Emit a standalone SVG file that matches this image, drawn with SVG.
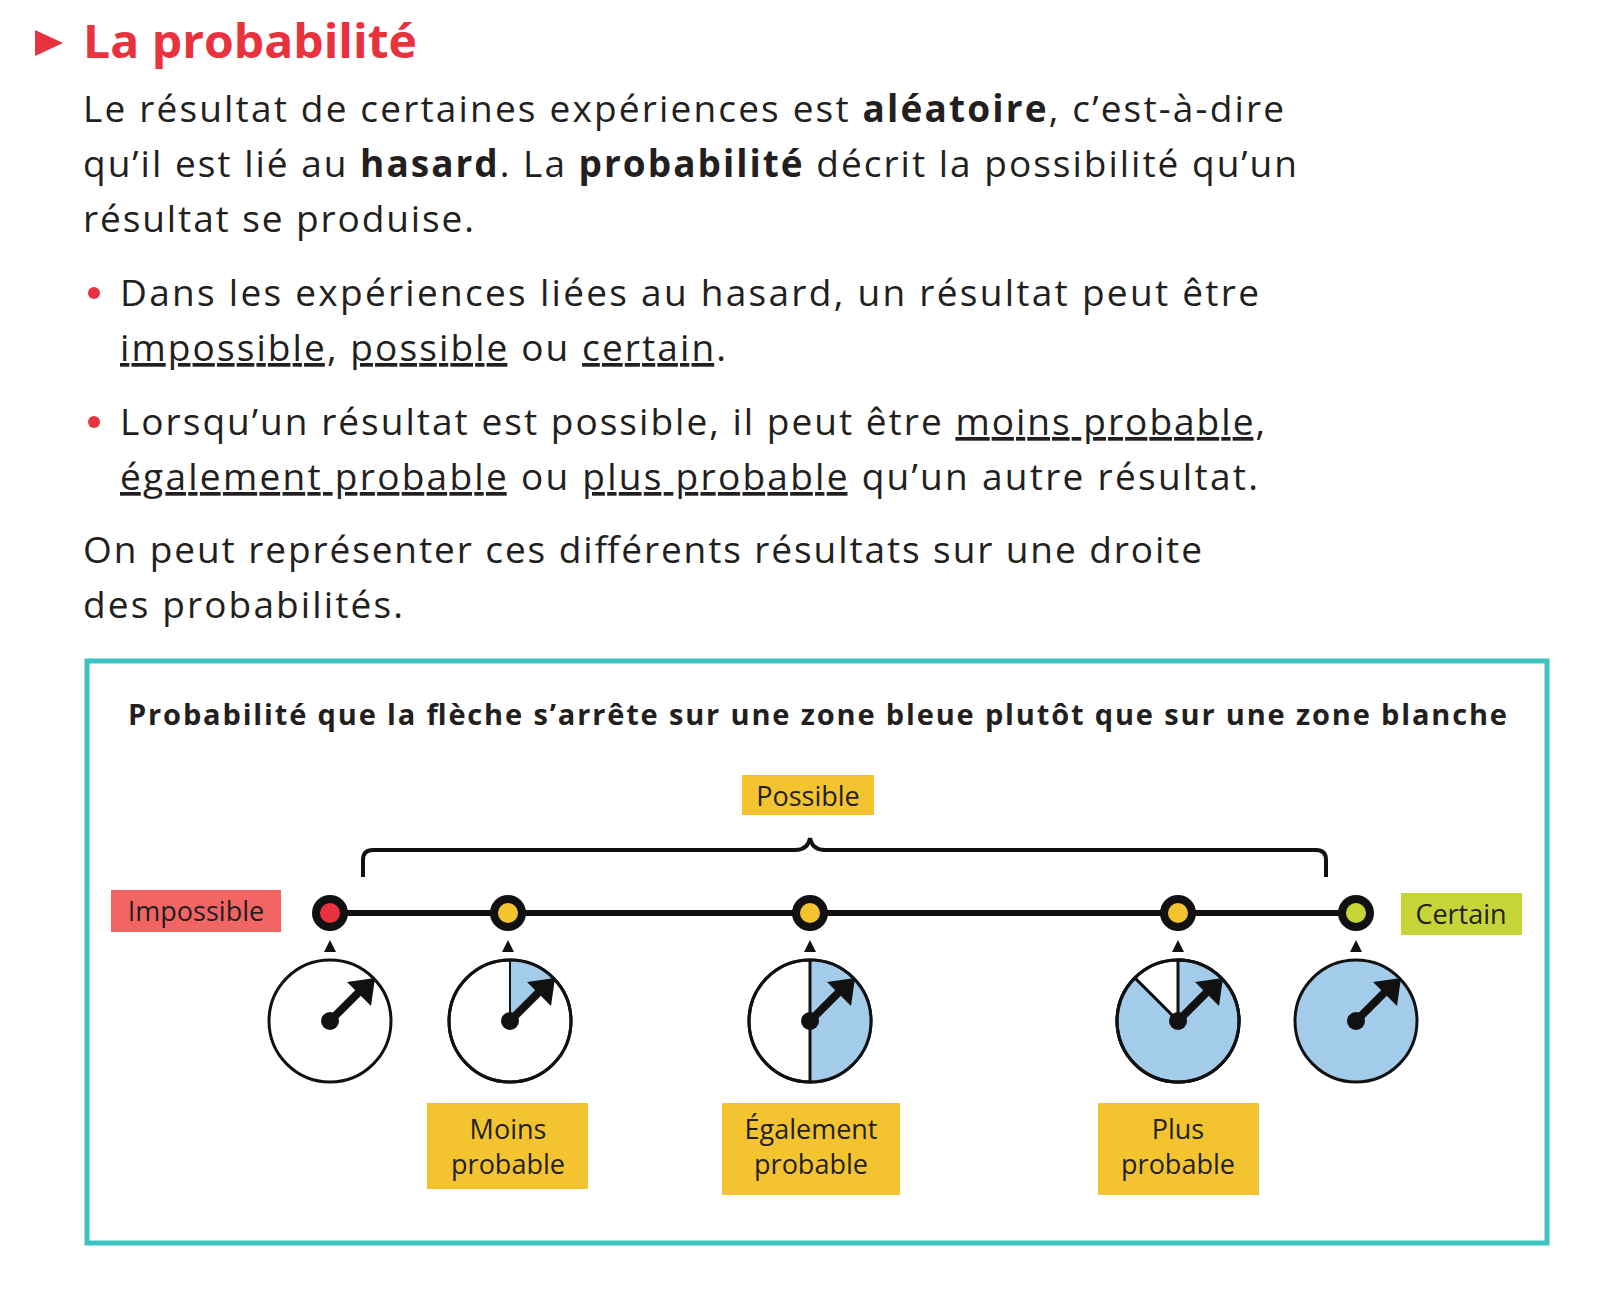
<svg xmlns="http://www.w3.org/2000/svg" xmlns:xlink="http://www.w3.org/1999/xlink" width="1600" height="1296" viewBox="0 0 1600 1296">
<style>
.t{font-family:"Open Sans",Lato,sans-serif;font-size:37px;fill:#231f20}
.b{font-weight:bold}
.u{text-decoration:underline}
.l{font-family:"Open Sans",Lato,sans-serif;font-size:27px;fill:#231f20;text-anchor:middle}
.sp{fill:#fff;stroke:#111;stroke-width:3}
.bl{fill:#a3cbea}
</style>
<defs>
<g id="arr"><circle r="9" fill="#111"/><line x1="0" y1="0" x2="32" y2="-32" stroke="#111" stroke-width="8"/><polygon points="17,-39 45,-43 41,-15" fill="#111"/></g>
</defs>
<rect width="1600" height="1296" fill="#fff"/>
<polygon points="35,30 63,43 35,56" fill="#e8333f"/>
<text x="83" y="58" font-family="'Open Sans',sans-serif" font-size="46" font-weight="bold" fill="#e8333f" textLength="334" lengthAdjust="spacingAndGlyphs">La probabilité</text>
<text class="t" x="83" y="122" textLength="1201">Le résultat de certaines expériences est <tspan class="b">aléatoire</tspan>, c’est-à-dire</text>
<text class="t" x="83" y="177" textLength="1214">qu’il est lié au <tspan class="b">hasard</tspan>. La <tspan class="b">probabilité</tspan> décrit la possibilité qu’un</text>
<text class="t" x="83" y="232" textLength="391">résultat se produise.</text>
<circle cx="94" cy="293" r="6" fill="#e8333f"/>
<text class="t" x="120" y="306" textLength="1139">Dans les expériences liées au hasard, un résultat peut être</text>
<text class="t" x="120" y="361" textLength="606"><tspan class="u">impossible</tspan>, <tspan class="u">possible</tspan> ou <tspan class="u">certain</tspan>.</text>
<circle cx="94" cy="422" r="6" fill="#e8333f"/>
<text class="t" x="120" y="435" textLength="1145">Lorsqu’un résultat est possible, il peut être <tspan class="u">moins probable</tspan>,</text>
<text class="t" x="120" y="490" textLength="1138"><tspan class="u">également probable</tspan> ou <tspan class="u">plus probable</tspan> qu’un autre résultat.</text>
<text class="t" x="83" y="563" textLength="1119">On peut représenter ces différents résultats sur une droite</text>
<text class="t" x="83" y="618" textLength="320">des probabilités.</text>

<rect x="87" y="661" width="1460" height="582" fill="none" stroke="#3cc3bf" stroke-width="5"/>
<text x="128" y="725" font-family="'Open Sans',sans-serif" font-size="29" font-weight="bold" fill="#231f20" textLength="1379">Probabilité que la flèche s’arrête sur une zone bleue plutôt que sur une zone blanche</text>

<g id="connectors">
<path d="M363,877 V860 Q363,850 373,850 H795 Q808,850 810,838 Q812,850 825,850 H1316 Q1326,850 1326,860 V877" fill="none" stroke="#111" stroke-width="4"/>
<line x1="330" y1="913" x2="1356" y2="913" stroke="#111" stroke-width="6"/>
</g>

<g id="possible"><rect x="742" y="775" width="132" height="40" fill="#f4c430"/><text class="l" x="808" y="806">Possible</text></g>
<g id="impossible"><rect x="111" y="890" width="170" height="42" fill="#f26565"/><text class="l" x="196" y="921">Impossible</text></g>
<g id="certain"><rect x="1401" y="893" width="121" height="42" fill="#c5d437"/><text class="l" x="1461" y="924">Certain</text></g>

<g id="p0"><circle cx="330" cy="913" r="18" fill="#111"/><circle cx="330" cy="913" r="10" fill="#e8333f"/><polygon points="324,952 336,952 330,940" fill="#111"/>
<circle class="sp" cx="330" cy="1021" r="61"/><use xlink:href="#arr" href="#arr" x="330" y="1021"/></g>
<g id="p1"><circle cx="508" cy="913" r="18" fill="#111"/><circle cx="508" cy="913" r="10" fill="#f4c430"/><polygon points="502,952 514,952 508,940" fill="#111"/>
<circle class="sp" cx="510" cy="1021" r="61"/><path class="bl" d="M510,1021 V960 A61,61 0 0 1 553.1,977.9 Z" stroke="#111" stroke-width="2"/><circle cx="510" cy="1021" r="61" fill="none" stroke="#111" stroke-width="3"/><use xlink:href="#arr" href="#arr" x="510" y="1021"/></g>
<g id="p2"><circle cx="810" cy="913" r="18" fill="#111"/><circle cx="810" cy="913" r="10" fill="#f4c430"/><polygon points="804,952 816,952 810,940" fill="#111"/>
<circle class="sp" cx="810" cy="1021" r="61"/><path class="bl" d="M810,960 A61,61 0 0 1 810,1082 Z"/><line x1="810" y1="960" x2="810" y2="1082" stroke="#111" stroke-width="3"/><circle cx="810" cy="1021" r="61" fill="none" stroke="#111" stroke-width="3"/><use xlink:href="#arr" href="#arr" x="810" y="1021"/></g>
<g id="p3"><circle cx="1178" cy="913" r="18" fill="#111"/><circle cx="1178" cy="913" r="10" fill="#f4c430"/><polygon points="1172,952 1184,952 1178,940" fill="#111"/>
<circle class="sp" cx="1178" cy="1021" r="61"/><path class="bl" d="M1178,1021 V960 A61,61 0 1 1 1134.9,977.9 Z" stroke="#111" stroke-width="3"/><circle cx="1178" cy="1021" r="61" fill="none" stroke="#111" stroke-width="3"/><use xlink:href="#arr" href="#arr" x="1178" y="1021"/></g>
<g id="p4"><circle cx="1356" cy="913" r="18" fill="#111"/><circle cx="1356" cy="913" r="10" fill="#c5d437"/><polygon points="1350,952 1362,952 1356,940" fill="#111"/>
<circle cx="1356" cy="1021" r="61" fill="#a3cbea" stroke="#111" stroke-width="3"/><use xlink:href="#arr" href="#arr" x="1356" y="1021"/></g>

<g id="moins"><rect x="427" y="1103" width="161" height="86" fill="#f4c430"/><text class="l" x="508" y="1139">Moins</text><text class="l" x="508" y="1174">probable</text></g>
<g id="egal"><rect x="722" y="1103" width="178" height="92" fill="#f4c430"/><text class="l" x="811" y="1139">Également</text><text class="l" x="811" y="1174">probable</text></g>
<g id="plus"><rect x="1098" y="1103" width="161" height="92" fill="#f4c430"/><text class="l" x="1178" y="1139">Plus</text><text class="l" x="1178" y="1174">probable</text></g>
</svg>
